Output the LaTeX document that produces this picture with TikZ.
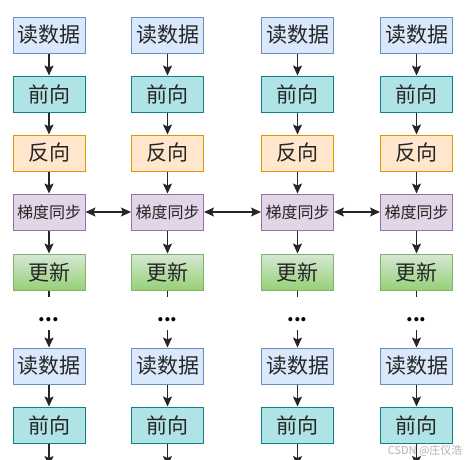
\documentclass[tikz,border=0pt]{standalone}
\usepackage{fontspec}
\setmainfont{Noto Sans CJK SC}
\usetikzlibrary{arrows.meta,shadings}
\definecolor{bluef}{HTML}{DAE8FC}\definecolor{blued}{HTML}{6C8EBF}
\definecolor{tealf}{HTML}{B0E3E6}\definecolor{teald}{HTML}{0E8088}
\definecolor{orf}{HTML}{FFE6CC}\definecolor{ord}{HTML}{D79B00}
\definecolor{purf}{HTML}{E1D5E7}\definecolor{purd}{HTML}{9673A6}
\definecolor{grt}{HTML}{D5E8D4}\definecolor{grb}{HTML}{97D077}\definecolor{grd}{HTML}{82B366}
\tikzset{
  box/.style={minimum width=72pt,minimum height=36pt,inner sep=0pt,line width=1pt,text=black!85,font=\fontsize{21}{21}\selectfont},
  readbox/.style={box,fill=bluef,draw=blued},
  fwdbox/.style={box,fill=tealf,draw=teald},
  bwdbox/.style={box,fill=orf,draw=ord},
  syncbox/.style={box,fill=purf,draw=purd,font=\fontsize{16}{16}\selectfont},
  updbox/.style={box,top color=grt,bottom color=grb,draw=grd},
  arr/.style={-{Stealth[length=10pt,width=9pt,inset=2pt]},line width=1.2pt,black!85},
  darr/.style={{Stealth[length=10pt,width=9pt,inset=2pt]}-{Stealth[length=10pt,width=9pt,inset=2pt]},line width=1.2pt,black!85},
  ln/.style={line width=1.2pt,black!85},
  dots/.style={inner sep=0pt,font=\bfseries\fontsize{19}{19}\selectfont}
}
\begin{document}
\begin{tikzpicture}[x=1pt,y=-1pt]
\useasboundingbox[fill=white] (0,0) rectangle (474,459);
\clip (0,0) rectangle (474,459);
\foreach \i/\x in {1/49,2/167.5,3/297.5,4/416.5}{
  \node[readbox] (r\i) at (\x,35) {读数据};
  \node[fwdbox] (f\i) at (\x,94) {前向};
  \node[bwdbox] (b\i) at (\x,153) {反向};
  \node[syncbox] (s\i) at (\x,212) {梯度同步};
  \node[updbox] (u\i) at (\x,272) {更新};
  \coordinate (st\i) at (\x,297);
  \node[dots] (d\i) at (\x,320) {...};
  \coordinate (dt\i) at (\x,330);
  \node[readbox] (rr\i) at (\x,366) {读数据};
  \node[fwdbox] (ff\i) at (\x,425) {前向};
  \coordinate (end\i) at (\x,466);
  \draw[arr] (r\i) -- (f\i);
  \draw[arr] (f\i) -- (b\i);
  \draw[arr] (b\i) -- (s\i);
  \draw[arr] (s\i) -- (u\i);
  \draw[ln] (u\i) -- (st\i);
  \draw[arr] (dt\i) -- (rr\i);
  \draw[arr] (rr\i) -- (ff\i);
  \draw[arr] (ff\i) -- (end\i);
}
\draw[darr] (s1) -- (s2);
\draw[darr] (s2) -- (s3);
\draw[darr] (s3) -- (s4);
\node[text=gray!60,font=\fontsize{11}{11}\selectfont,anchor=east] (wm) at (466,451) {CSDN @庄仪浩};
\end{tikzpicture}
\end{document}
